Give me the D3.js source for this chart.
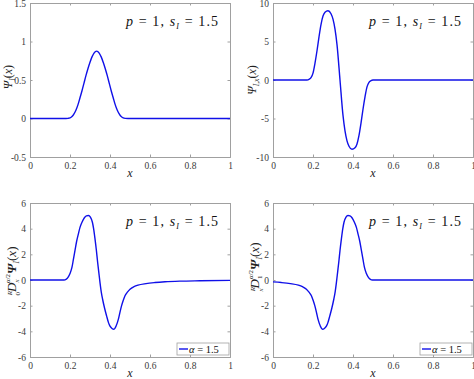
<!DOCTYPE html>
<html>
<head>
<meta charset="utf-8">
<script src="https://cdn.jsdelivr.net/npm/d3@7"></script>
<style>
  body { margin: 0; background: #fff; }
  svg { display: block; }
</style>
</head>
<body>
<div id="chart"></div>
<script>
// values
const xTicks = [0, 0.2, 0.4, 0.6, 0.8, 1];
const psiTicks = [-0.5, 0, 0.5, 1, 1.5];
const dpsiTicks = [-10, -5, 0, 5, 10];
const fracTicks = [-6, -4, -2, 0, 2, 4, 6];

// Psi_I(x)
const psi = [[0,0],[0.18,0],[0.19,0.002],[0.20,0.008],[0.21,0.025],[0.22,0.06],[0.23,0.11],[0.24,0.18],
  [0.25,0.27],[0.26,0.36],[0.27,0.46],[0.28,0.56],[0.29,0.65],[0.30,0.73],[0.31,0.8],[0.32,0.85],
  [0.333,0.875],[0.346,0.85],[0.356,0.8],[0.366,0.73],[0.376,0.65],[0.386,0.56],[0.396,0.46],
  [0.406,0.36],[0.416,0.27],[0.426,0.18],[0.436,0.11],[0.446,0.06],[0.456,0.025],[0.466,0.008],
  [0.476,0.002],[0.49,0],[1,0]];

// Psi_{I,x}(x)
const dpsi = [[0,0],[0.17,0],[0.18,0.08],[0.19,0.3],[0.20,0.9],[0.21,2.2],[0.22,3.8],[0.23,5.6],
  [0.24,7.2],[0.25,8.3],[0.26,8.8],[0.275,9.0],[0.29,8.6],[0.30,7.9],[0.31,6.6],[0.32,4.6],
  [0.335,0],[0.35,-4.6],[0.36,-6.6],[0.37,-7.9],[0.38,-8.6],[0.395,-9.0],[0.41,-8.8],[0.42,-8.3],
  [0.43,-7.2],[0.44,-5.6],[0.45,-3.8],[0.46,-2.2],[0.47,-0.9],[0.48,-0.3],[0.49,-0.08],[0.50,0],[1,0]];

// left RL derivative
const leftD = [[0,0],[0.17,0],[0.18,0.05],[0.19,0.2],[0.20,0.5],[0.21,1.0],[0.217,1.6],[0.225,2.3],
  [0.233,3.0],[0.242,3.6],[0.25,4.1],[0.26,4.5],[0.272,4.85],[0.282,5.0],[0.292,5.03],[0.302,4.9],
  [0.312,4.5],[0.318,4.0],[0.325,3.2],[0.332,2.3],[0.338,1.4],[0.344,0.6],[0.35,-0.2],[0.356,-0.9],
  [0.363,-1.5],[0.373,-2.2],[0.383,-2.8],[0.392,-3.3],[0.40,-3.6],[0.41,-3.78],[0.42,-3.84],
  [0.43,-3.6],[0.442,-3.05],[0.45,-2.5],[0.458,-2.0],[0.466,-1.6],[0.475,-1.23],[0.487,-0.95],
  [0.50,-0.72],[0.52,-0.52],[0.54,-0.4],[0.58,-0.28],[0.625,-0.2],[0.675,-0.14],[0.75,-0.09],
  [0.85,-0.06],[1.0,-0.03]];

// right RL derivative
const rightD = [[0,-0.15],[0.042,-0.2],[0.087,-0.28],[0.127,-0.4],[0.147,-0.52],[0.167,-0.72],
  [0.18,-0.95],[0.192,-1.23],[0.201,-1.6],[0.209,-2.0],[0.217,-2.5],[0.225,-3.05],[0.237,-3.6],
  [0.247,-3.84],[0.257,-3.78],[0.267,-3.6],[0.275,-3.3],[0.284,-2.8],[0.294,-2.2],[0.304,-1.5],
  [0.311,-0.9],[0.317,-0.2],[0.323,0.6],[0.329,1.4],[0.335,2.3],[0.342,3.2],[0.349,4.0],
  [0.355,4.5],[0.365,4.9],[0.375,5.03],[0.385,5.0],[0.395,4.85],[0.407,4.5],[0.417,4.1],
  [0.425,3.6],[0.434,3.0],[0.442,2.3],[0.45,1.6],[0.457,1.0],[0.467,0.5],[0.477,0.2],
  [0.487,0.05],[0.497,0],[1,0]];

const W = 474, H = 379;
const serif = "'Liberation Serif', 'DejaVu Serif', serif";
const blue = "#1010e8";

const svg = d3.select("#chart").append("svg")
  .attr("width", W).attr("height", H)
  .attr("font-family", serif);

function drawPanel(o) {
  const x = d3.scaleLinear().domain([0, 1]).range([o.left, o.left + 200]);
  const y = d3.scaleLinear().domain(o.yDomain).range([o.top + 154, o.top]);
  const g = svg.append("g");

  const styleAxis = a => {
    a.attr("font-family", serif).attr("font-size", 9.5);
    a.select(".domain").attr("stroke", "#a0a0a0");
    a.selectAll(".tick line").attr("stroke", "#a0a0a0");
    a.selectAll("text").attr("fill", "#3a3a3a");
  };

  g.append("g").attr("transform", `translate(0,${y.range()[0]})`)
    .call(d3.axisBottom(x).tickValues(xTicks).tickSize(-2.5).tickPadding(5).tickFormat(d3.format("")))
    .call(styleAxis);
  g.append("g").attr("transform", `translate(0,${y.range()[1]})`)
    .call(d3.axisTop(x).tickValues(xTicks).tickSize(-2.5).tickFormat(""))
    .call(styleAxis);
  g.append("g").attr("transform", `translate(${x.range()[0]},0)`)
    .call(d3.axisLeft(y).tickValues(o.yTicks).tickSize(-2.5).tickPadding(4).tickFormat(d => String(d)))
    .call(styleAxis);
  g.append("g").attr("transform", `translate(${x.range()[1]},0)`)
    .call(d3.axisRight(y).tickValues(o.yTicks).tickSize(-2.5).tickFormat(""))
    .call(styleAxis);

  const line = d3.line().x(d => x(d[0])).y(d => y(d[1])).curve(d3.curveMonotoneX);
  g.append("path").datum(o.data)
    .attr("fill", "none").attr("stroke", blue).attr("stroke-width", 1.4)
    .attr("d", line);

  // x label
  g.append("text").attr("x", x(0.5)).attr("y", y.range()[0] + 20)
    .attr("text-anchor", "middle").attr("font-style", "italic").attr("font-size", 12)
    .attr("fill", "#222").text("x");

  // annotation
  const t = g.append("text").attr("x", x(0.48)).attr("y", o.top + 23)
    .attr("font-size", 14).attr("fill", "#111")
    .attr("textLength", 92).attr("lengthAdjust", "spacing");
  t.append("tspan").attr("font-style", "italic").text("p");
  t.append("tspan").text(" = 1,  ");
  t.append("tspan").attr("font-style", "italic").text("s");
  t.append("tspan").attr("font-style", "italic").attr("font-size", 8).attr("dy", 3).text("I");
  t.append("tspan").attr("dy", -3).text(" = 1.5");

  // y label
  const yl = g.append("text")
    .attr("transform", `translate(${o.left - o.ylabelOffset},${o.ylabelY}) rotate(-90)`)
    .attr("text-anchor", "middle").attr("font-size", o.ylabelSize).attr("fill", "#222");
  o.ylabel(yl);

  if (o.legend) {
    const lx = o.left + 147, ly = o.top + 140, lw = 52, lh = 12;
    g.append("rect").attr("x", lx).attr("y", ly).attr("width", lw).attr("height", lh)
      .attr("fill", "#fff").attr("stroke", "#a0a0a0").attr("stroke-width", 0.8);
    g.append("line").attr("x1", lx + 2).attr("x2", lx + 11)
      .attr("y1", ly + lh / 2).attr("y2", ly + lh / 2)
      .attr("stroke", blue).attr("stroke-width", 1.4);
    const lt = g.append("text").attr("x", lx + 12).attr("y", ly + 9.5)
      .attr("font-size", 10.5).attr("fill", "#111");
    lt.append("tspan").attr("font-style", "italic").text("α");
    lt.append("tspan").text(" = 1.5");
  }
}

function psiI(t) {
  t.append("tspan").attr("font-style", "italic").text("Ψ");
  t.append("tspan").attr("font-style", "italic").attr("font-size", 7.5).attr("dy", 2.5).text("I");
}

drawPanel({
  left: 30, top: 3, yDomain: [-0.5, 1.5], yTicks: psiTicks, data: psi,
  ylabelOffset: 18, ylabelY: 77, ylabelSize: 12,
  ylabel: t => {
    psiI(t);
    t.append("tspan").attr("dy", -2.5).text("(");
    t.append("tspan").attr("font-style", "italic").text("x");
    t.append("tspan").text(")");
  }
});

drawPanel({
  left: 273, top: 3, yDomain: [-10, 10], yTicks: dpsiTicks, data: dpsi,
  ylabelOffset: 17, ylabelY: 80, ylabelSize: 12,
  ylabel: t => {
    psiI(t);
    t.append("tspan").attr("font-size", 7.5).text(",");
    t.append("tspan").attr("font-style", "italic").attr("font-size", 7.5).text("x");
    t.append("tspan").attr("dy", -2.5).text("(");
    t.append("tspan").attr("font-style", "italic").text("x");
    t.append("tspan").text(")");
  }
});

function fracLabel(lower, sub) {
  return t => {
    t.append("tspan").attr("font-style", "italic").attr("font-size", 7).attr("dy", -4).text("R");
    t.append("tspan").attr("font-style", lower === "x" ? "italic" : "normal")
      .attr("font-size", 7).attr("dx", -4.5).attr("dy", 8).text(lower);
    t.append("tspan").attr("font-style", "italic").attr("dy", -4).text("D");
    t.append("tspan").attr("font-style", sub === "x" ? "italic" : "normal")
      .attr("font-size", 7).attr("dy", 3).text(sub);
    t.append("tspan").attr("font-size", 7).attr("dx", -3.5).attr("dy", -9).text("α/2");
    t.append("tspan").attr("font-style", "italic").attr("font-weight", "bold").attr("dy", 6).text("Ψ");
    t.append("tspan").attr("font-style", "italic").attr("font-size", 7.5).attr("dy", 2.5).text("I");
    t.append("tspan").attr("dy", -2.5).text("(");
    t.append("tspan").attr("font-style", "italic").text("x");
    t.append("tspan").text(")");
  };
}

drawPanel({
  left: 30, top: 203, yDomain: [-6, 6], yTicks: fracTicks, data: leftD, legend: true,
  ylabelOffset: 14, ylabelY: 271, ylabelSize: 13,
  ylabel: fracLabel("0", "x")
});

drawPanel({
  left: 273, top: 203, yDomain: [-6, 6], yTicks: fracTicks, data: rightD, legend: true,
  ylabelOffset: 14, ylabelY: 267, ylabelSize: 13,
  ylabel: fracLabel("x", "1")
});
</script>
</body>
</html>
